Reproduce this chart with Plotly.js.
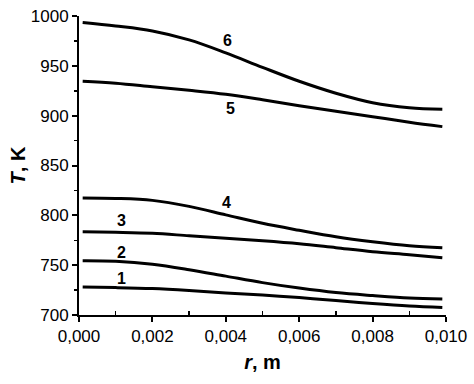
<!DOCTYPE html>
<html>
<head>
<meta charset="utf-8">
<script src="https://cdn.plot.ly/plotly-3.0.1.min.js"></script>
<style>html,body{margin:0;padding:0;background:#fff}#chart{width:474px;height:384px}</style>
</head>
<body>
<div id="chart"></div>
<script>
// radius, m
const r = [0.0001, 0.001, 0.002, 0.003, 0.004, 0.005, 0.006, 0.007, 0.008, 0.009, 0.0099];
// temperature curves, K
const T1 = [728, 727.5, 726.5, 724.5, 722, 720, 717.5, 714.5, 711.5, 709, 707.5];
const T2 = [754.5, 754, 751, 745.5, 739, 732.5, 727, 722.5, 719.5, 717, 716];
const T3 = [783.5, 783, 782, 779.5, 777, 774.5, 771.5, 767.5, 763.5, 760.5, 757.5];
const T4 = [817.5, 817, 815, 809, 800.5, 792, 785, 778.5, 773.5, 769.5, 767.5];
const T5 = [934.5, 932.5, 929, 925.5, 921.5, 916, 910, 904.5, 899, 893.5, 889];
const T6 = [993.5, 990, 985, 976, 963, 948.5, 934.5, 922.5, 913, 908, 906.5];
const series = [T1, T2, T3, T4, T5, T6];

// curve labels
const labelText = ["1", "2", "3", "4", "5", "6"];
const labelX = [0.00117, 0.00117, 0.00117, 0.00403, 0.00412, 0.00405];
const labelY = [737, 763, 795, 813, 907, 975];

const traces = series.map(T => ({
  x: r, y: T, type: 'scatter', mode: 'lines',
  line: {color: '#000', width: 3, shape: 'spline', smoothing: 1},
  hoverinfo: 'skip', showlegend: false
}));

const annotations = labelText.map((t, i) => ({
  x: labelX[i], y: labelY[i], xref: 'x', yref: 'y', text: '<b>' + t + '</b>',
  showarrow: false, font: {family: 'Liberation Sans, Arial, sans-serif', size: 16, color: '#000'}
}));

const tickFont = {family: 'Liberation Sans, Arial, sans-serif', size: 17, color: '#000'};
const titleFont = {family: 'Liberation Sans, Arial, sans-serif', size: 20, color: '#000'};

const layout = {
  width: 474, height: 384,
  margin: {l: 79, r: 28, t: 16, b: 69},
  paper_bgcolor: '#fff', plot_bgcolor: '#fff',
  separators: ', ',
  showlegend: false,
  xaxis: {
    range: [0, 0.010], tickvals: [0, 0.002, 0.004, 0.006, 0.008, 0.010],
    tickformat: '.3f', showgrid: false, zeroline: false,
    showline: true, linecolor: '#000', linewidth: 2,
    ticks: 'outside', ticklen: 5, tickwidth: 2, tickcolor: '#000',
    minor: {tickvals: [0.001, 0.003, 0.005, 0.007, 0.009], ticks: 'inside', ticklen: 4, tickwidth: 1.5, tickcolor: '#000', showgrid: false},
    tickfont: tickFont,
    title: {text: '<b><i>r</i>, m</b>', font: titleFont, standoff: 10}
  },
  yaxis: {
    range: [700, 1000], tickvals: [700, 750, 800, 850, 900, 950, 1000],
    tickformat: 'd', showgrid: false, zeroline: false,
    showline: true, linecolor: '#000', linewidth: 2,
    ticks: 'outside', ticklen: 5, tickwidth: 2, tickcolor: '#000',
    minor: {tickvals: [725, 775, 825, 875, 925, 975], ticks: 'outside', ticklen: 3, tickwidth: 1.5, tickcolor: '#000', showgrid: false},
    tickfont: tickFont,
    title: {text: '<b><i>T</i>, K</b>', font: titleFont, standoff: 0}
  },
  annotations: annotations
};

Plotly.newPlot('chart', traces, layout, {displayModeBar: false, staticPlot: true});
</script>
</body>
</html>
